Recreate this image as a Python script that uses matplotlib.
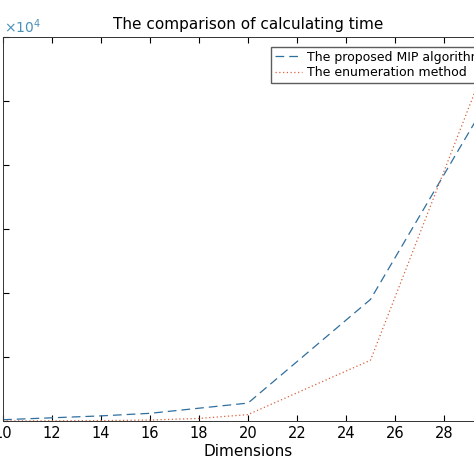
import matplotlib
matplotlib.use("Agg")
import matplotlib.pyplot as plt

dims = [10, 12, 14, 16, 18, 20, 25, 30]
mip = [200, 500, 800, 1200, 2000, 2800, 19000, 51500]
enum = [10, 30, 60, 150, 400, 1000, 9500, 58700]

fig = plt.figure(figsize=(4.74, 4.74), dpi=100)
W = 474
ax = fig.add_axes([3/W, 1-421/W, 490/W, 384/W])
ax.plot(dims, mip, ls=(0, (7, 4)), color='#2f6f9f', lw=0.9, label='The proposed MIP algorithm')
ax.plot(dims, enum, ls=(0, (1, 2)), color='#d9623b', lw=0.9, label='The enumeration method')
ax.set_xlim(10, 30)
ax.set_ylim(0, 60000)
ax.set_xticks(range(10, 31, 2))
ax.set_xticklabels([str(v) for v in range(10, 31, 2)])
ax.set_yticks(range(0, 60001, 10000))
ax.set_yticklabels([])
ax.tick_params(direction='in', length=4, labelsize=10.5, top=True, right=True)
ax.set_title('The comparison of calculating time', fontsize=11)
ax.set_xlabel('Dimensions', fontsize=11, labelpad=2)
fig.text(4/W, 1-33/W, r'$\times10^4$', color='#4a90b8', fontsize=10)
for s in ax.spines.values():
    s.set_color('#333333'); s.set_linewidth(0.7)
ax.legend(loc='upper right', bbox_to_anchor=(1.0, 0.99), fontsize=9, frameon=True,
          fancybox=False, edgecolor='#333333', handlelength=2.2, handletextpad=0.4,
          borderpad=0.3, labelspacing=0.2)
fig.savefig('out.png', dpi=100)
